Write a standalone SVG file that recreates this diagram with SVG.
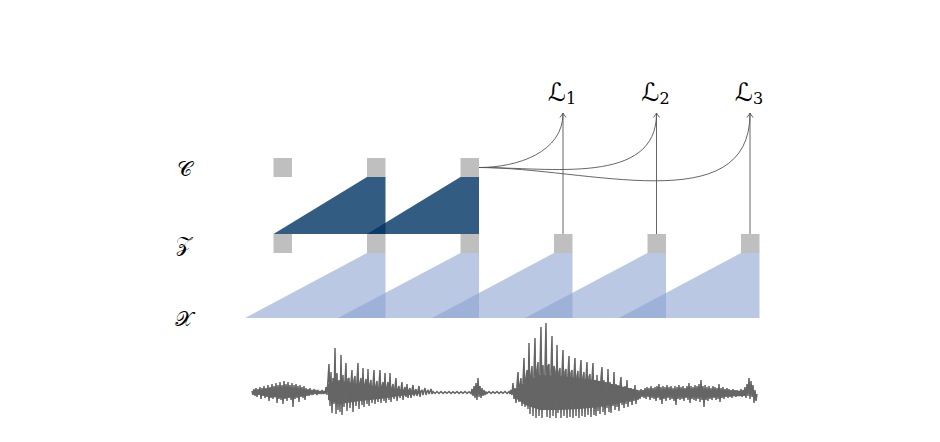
<svg xmlns="http://www.w3.org/2000/svg" width="940" height="442" viewBox="0 0 940 442">
<style>
.sq{fill:#bfbfbf}
.dark{fill:#003363;fill-opacity:0.8}
.light{fill:#8ca3d2;fill-opacity:0.6}
.lbl{font-family:"DejaVu Serif","DejaVu Sans",serif;font-size:21px;fill:#000}
.loss{font-family:"DejaVu Serif","DejaVu Sans",serif;font-size:25px;fill:#000}
.con{fill:none;stroke:#555;stroke-width:0.9}
.wave{fill:none;stroke:#656565;stroke-width:1.5;stroke-linejoin:miter;stroke-miterlimit:2}
.core{fill:#656565}
</style>
<defs>
<marker id="arr" markerUnits="userSpaceOnUse" markerWidth="12" markerHeight="12" viewBox="-6 -6 12 12" refX="0" refY="0" orient="auto">
<path d="M -4.5 -3 Q -1 -0.6 0 0 Q -1 0.6 -4.5 3" fill="none" stroke="#555" stroke-width="0.9"/>
</marker>
</defs>
<rect width="940" height="442" fill="#fff"/>

<g id="row-labels">
<text class="lbl" x="184" y="176" text-anchor="middle">𝒞</text>
<text class="lbl" x="184" y="251" text-anchor="middle">𝒵</text>
<text class="lbl" x="184" y="326" text-anchor="middle">𝒳</text>
</g>

<g id="receptive-fields">
<polygon class="light" points="245,318 367,253 385.5,253 385.5,318"/>
<polygon class="light" points="338,318 460.5,253 479,253 479,318"/>
<polygon class="light" points="432,318 554,253 572.5,253 572.5,318"/>
<polygon class="light" points="525,318 647.5,253 666,253 666,318"/>
<polygon class="light" points="619,318 741,253 759.5,253 759.5,318"/>
<polygon class="dark" points="273.5,234 367,177 385.5,177 385.5,234"/>
<polygon class="dark" points="367,234 460.5,177 479,177 479,234"/>
</g>

<g id="connectors">
<path class="con" d="M 479 167.5 C 518 167.5, 563 152, 563 113.5"/>
<path class="con" d="M 479 167.5 C 551.6 167.5, 656.5 185.6, 656.5 113.5"/>
<path class="con" d="M 479 167.5 C 587 167.5, 750 221, 750 113.5"/>
<line class="con" x1="563" y1="234" x2="563" y2="113" marker-end="url(#arr)"/>
<line class="con" x1="656.5" y1="234" x2="656.5" y2="113" marker-end="url(#arr)"/>
<line class="con" x1="750" y1="234" x2="750" y2="113" marker-end="url(#arr)"/>
</g>

<g id="c1"><rect class="sq" x="273.5" y="158" width="18.5" height="19"/></g>
<g id="c2"><rect class="sq" x="367" y="158" width="18.5" height="19"/></g>
<g id="c3"><rect class="sq" x="460.5" y="158" width="18.5" height="19"/></g>
<g id="z1"><rect class="sq" x="273.5" y="234" width="18.5" height="19"/></g>
<g id="z2"><rect class="sq" x="367" y="234" width="18.5" height="19"/></g>
<g id="z3"><rect class="sq" x="460.5" y="234" width="18.5" height="19"/></g>
<g id="z4"><rect class="sq" x="554" y="234" width="18.5" height="19"/></g>
<g id="z5"><rect class="sq" x="647.5" y="234" width="18.5" height="19"/></g>
<g id="z6"><rect class="sq" x="741" y="234" width="18.5" height="19"/></g>

<g id="L1"><text class="loss" x="548" y="101">ℒ<tspan font-size="16" dy="3">1</tspan></text></g>
<g id="L2"><text class="loss" x="641.5" y="101">ℒ<tspan font-size="16" dy="3">2</tspan></text></g>
<g id="L3"><text class="loss" x="735" y="101">ℒ<tspan font-size="16" dy="3">3</tspan></text></g>

<g id="waveform">
<polygon class="core" points="256,391 270,388 285,386.5 300,389 310,391 310,394 300,396 285,398 270,397 256,394"/>
<polygon class="core" points="328,384 340,381 360,384 380,387 400,389.5 420,391 420,394 400,396 380,399 360,401 340,404 328,400"/>
<polygon class="core" points="514,390 525,383 540,375 560,376 580,378 600,381 620,386 638,390 638,397 620,403 600,407 580,409 560,410 540,410 525,405 514,397"/>
<polygon class="core" points="640,390.5 700,389.5 745,391 745,396 700,397 640,396"/>
<polyline class="wave" points="252,391 253,395 254,389 255,396 256,388 257,397 258,389 259,395 260,387 261,399 262,388 263,396 264,386 265,398 266,388 267,397 268,385 269,401 270,387 271,398 272,384 273,399 274,386 275,397 276,383 277,403 278,385 279,399 280,382 281,400 282,385 283,404 284,381 285,399 286,384 287,401 288,382 289,398 290,385 291,400 292,383 293,407 294,385 295,399 296,384 297,398 298,386 299,402 300,385 301,397 302,387 303,398 304,386 305,400 306,388 307,396 308,389 309,396 310,388 311,395 312,390 313,395 314,389 315,394 316,390 317,395 318,390 319,394 320,391 321,394 322,390 323,394 324,391 325,394 326,387 327,395 328,380 329,364 330,406 331,372 332,413 333,378 334,404 335,348 336,414 337,373 338,410 339,380 340,412 341,355 342,415 343,375 344,407 345,381 346,363 347,411 348,379 349,378 350,408 351,382 352,370 353,412 354,380 355,376 356,406 357,381 358,363 359,409 360,383 361,378 362,405 363,368 364,407 365,384 366,379 367,404 368,369 369,406 370,384 371,380 372,403 373,385 374,370 375,404 376,386 377,381 378,402 379,385 380,370 381,403 382,386 383,382 384,401 385,373 386,403 387,387 388,382 389,400 390,373 391,402 392,388 393,384 394,399 395,387 396,378 397,401 398,389 399,386 400,398 401,389 402,382 403,400 404,390 405,387 406,397 407,384 408,398 409,390 410,388 411,398 412,390 413,385 414,396 415,391 416,389 417,396 418,391 419,386 420,397 421,391 422,390 423,395 424,391 425,388 426,395 427,391.5 428,390 429,394 430,391.5 431,389 432,394 433,391.5 435,393.5 437,391.5 439,393.5 441,391.5 443,393.5 445,391.8 447,393.3 449,391.5 451,393.5 453,391.8 455,393.3 457,391.5 459,393.5 461,391.8 463,393.3 465,391.5 467,393.5 469,391.8 471,393.5 472,389 473,396 474,386 475,398 476,383 477,400 478,378 479,397 480,386 481,398 482,388 483,396 484,390 485,395 486,391.5 487,393.5 489,391.5 491,393.5 493,391.8 495,393.3 497,391.5 499,393.5 501,391.8 503,393.3 505,391.5 507,393.5 509,391.5 510,394 511,390 512,395 513,383 514,399 515,388 516,403 517,385 518,372 519,402 520,384 521,378 522,406 523,382 524,358 525,407 526,378 527,370 528,409 529,343 530,414 531,375 532,366 533,416 534,372 535,338 536,418 537,370 538,362 539,416 540,368 541,327 542,418 543,365 544,410 545,368 546,323 547,417 548,366 549,364 550,418 551,370 552,336 553,416 554,366 555,371 556,418 557,345 558,413 559,372 560,368 561,418 562,373 563,350 564,416 565,372 566,369 567,418 568,374 569,356 570,417 571,373 572,370 573,418 574,375 575,358 576,416 577,376 578,371 579,418 580,374 581,360 582,416 583,377 584,372 585,417 586,378 587,362 588,415 589,377 590,374 591,417 592,379 593,363 594,415 595,380 596,416 597,375 598,411 599,381 600,414 601,378 602,367 603,412 604,380 605,415 606,382 607,408 608,369 609,412 610,382 611,413 612,384 613,406 614,372 615,410 616,384 617,407 618,385 619,411 620,386 621,377 622,405 623,387 624,408 625,386 626,404 627,380 628,407 629,389 630,402 631,388 632,405 633,390 634,401 635,385 636,404 637,391 638,400 639,390 640,399 641,389 642,397 643,390 644,398 645,388 646,399 647,387 648,397 649,388 650,400 651,386 652,398 653,388 654,399 655,387 656,401 657,386 658,398 659,384 660,400 661,387 662,404 663,386 664,399 665,387 666,401 667,385 668,398 669,387 670,400 671,386 672,399 673,388 674,401 675,386 676,405 677,387 678,399 679,385 680,400 681,387 682,399 683,386 684,401 685,388 686,398 687,386 688,400 689,383 690,403 691,386 692,399 693,387 694,400 695,385 696,401 697,386 698,399 699,384 700,402 701,380 702,400 703,386 704,407 705,385 706,400 707,387 708,401 709,386 710,399 711,388 712,400 713,386 714,398 715,387 716,400 717,388 718,399 719,384 720,402 721,388 722,398 723,387 724,399 725,389 726,397 727,388 728,398 729,389 730,397 731,390 732,398 733,389 734,396 735,390 736,397 737,390 738,396 739,391 740,396 741,389 742,397 743,390 744,395 745,387 746,398 747,384 748,396 749,378 750,399 751,381 752,397 753,385 754,403 755,390 756,401 757,394"/>
</g>
</svg>
